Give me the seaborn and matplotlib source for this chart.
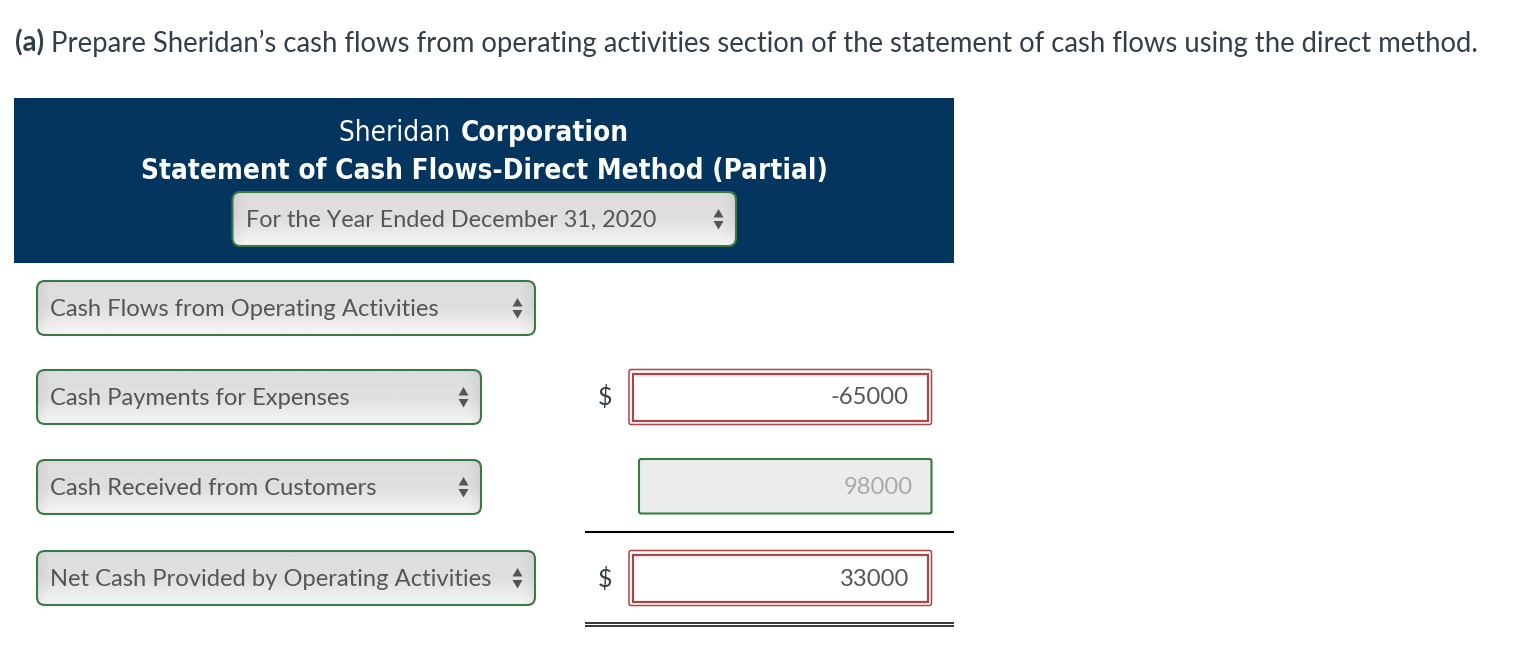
import numpy as np
import matplotlib
matplotlib.use("Agg")
import matplotlib.pyplot as plt
from matplotlib.patches import FancyBboxPatch, Rectangle, Polygon
import seaborn as sns

# ---- content ----
QUESTION_BOLD = "(a)"
QUESTION_TEXT = " Prepare Sheridan’s cash flows from operating activities section of the statement of cash flows using the direct method."
COMPANY_REGULAR = "Sheridan "
COMPANY_BOLD = "Corporation"
STATEMENT_TITLE = "Statement of Cash Flows-Direct Method (Partial)"
PERIOD_LABEL = "For the Year Ended December 31, 2020"
ROW_LABELS = ["Cash Flows from Operating Activities", "Cash Payments for Expenses",
              "Cash Received from Customers", "Net Cash Provided by Operating Activities"]
AMOUNT_LABELS = ["-65000", "98000", "33000"]

# ---- layout (pixels) ----
ROW_TOPS = [281, 370, 460, 551]
ROW_RIGHTS = [535, 481, 481, 535]
AMOUNT_TOPS = [369.5, 459, 550.5]
NAVY = "#03355f"; GREEN = "#3b7a43"; RED = "#ad4545"; TEXT = "#555555"; INK = "#333f48"
FS = 17.1

sns.set_theme(style="white")
plt.rcParams["font.family"] = ["Lato", "DejaVu Sans"]
fig = plt.figure(figsize=(15.32, 6.70), dpi=100, facecolor="white")
ax = fig.add_axes([0, 0, 1, 1])
ax.set_xlim(0, 1532); ax.set_ylim(670, 0); ax.axis("off")

def select(x0, y0, x1, y1, label, fs=FS):
    h = y1 - y0; w = x1 - x0
    ramp = np.interp(np.linspace(0, 1, 64), [0, .5, .6, .9, 1], [.865, .875, .89, .95, .96])
    img = np.tile(ramp[:, None], (1, 200))
    u = np.linspace(0, 1, 200)
    side = np.clip(np.minimum(u, 1 - u) * w / 12, 0, 1)
    img = img * (0.95 + 0.05 * side)[None, :]
    box = FancyBboxPatch((x0, y0), w, h, boxstyle="round,pad=0,rounding_size=8",
                         fc="none", ec=GREEN, lw=1.5, zorder=3)
    ax.add_patch(box)
    im = ax.imshow(img, extent=(x0, x1, y1, y0), cmap="gray", vmin=0, vmax=1, aspect="auto", zorder=2)
    im.set_clip_path(box)
    ax.text(x0 + 13.5, (y0 + y1) / 2 + 1.2, label, color=TEXT, fontsize=fs, va="center", ha="left", zorder=4)
    ax_c = x1 - 17.5; ym = (y0 + y1) / 2
    ax.add_patch(Polygon([(ax_c - 5, ym - 1.5), (ax_c + 5, ym - 1.5), (ax_c, ym - 10)], fc=TEXT, ec="none", zorder=4))
    ax.add_patch(Polygon([(ax_c - 5, ym + 2), (ax_c + 5, ym + 2), (ax_c, ym + 10.5)], fc=TEXT, ec="none", zorder=4))

def red_box(y0, label):
    ax.add_patch(FancyBboxPatch((629, y0), 302.5, 55, boxstyle="round,pad=0,rounding_size=2", fc="white", ec=RED, lw=1.1, zorder=2))
    ax.add_patch(Rectangle((633, y0 + 4), 294.5, 47, fc="white", ec=RED, lw=1.6, zorder=3))
    ax.add_patch(Rectangle((634, y0 + 5), 292.5, 2.5, fc="#ececec", ec="none", zorder=3))
    ax.text(909, y0 + 28.5, label, color=TEXT, fontsize=FS, ha="right", va="center", zorder=4)
    ax.text(605, y0 + 28, "$", color=INK, fontsize=18, ha="center", va="center", zorder=4)

# question line
r = fig.canvas.get_renderer()
t = ax.text(15, 43, QUESTION_BOLD, color=INK, fontsize=19.8, fontweight="bold", va="center", ha="left")
x = t.get_window_extent(r).x1
ax.text(x, 43, QUESTION_TEXT, color=INK, fontsize=19.8, va="center", ha="left")

# header band
ax.add_patch(Rectangle((14, 98), 940, 165, fc=NAVY, ec="none", zorder=1))
hf = dict(color="white", fontsize=20, va="center", ha="left", zorder=4,
          family="DejaVu Sans", stretch="condensed")
a = ax.text(0, 133, COMPANY_REGULAR, **hf)
b = ax.text(0, 133, COMPANY_BOLD, fontweight="bold", **hf)
wa = a.get_window_extent(r).width + 3; wb = b.get_window_extent(r).width
a.set_x(484 - (wa + wb) / 2); b.set_x(484 - (wa + wb) / 2 + wa)
ax.text(484, 170.5, STATEMENT_TITLE, color="white", fontsize=20, fontweight="bold", va="center", ha="center",
        family="DejaVu Sans", stretch="condensed", zorder=4)
select(232.5, 192, 736, 246, PERIOD_LABEL, fs=16.85)

for top, right, label in zip(ROW_TOPS, ROW_RIGHTS, ROW_LABELS):
    select(37, top, right, top + 54, label)

red_box(AMOUNT_TOPS[0], AMOUNT_LABELS[0])
ax.add_patch(FancyBboxPatch((639, AMOUNT_TOPS[1]), 292.5, 54.5, boxstyle="round,pad=0,rounding_size=2", fc="#ececec", ec=GREEN, lw=1.5, zorder=2))
ax.text(913, AMOUNT_TOPS[1] + 28.5, AMOUNT_LABELS[1], color="#aaaaaa", fontsize=FS, ha="right", va="center", zorder=4)
red_box(AMOUNT_TOPS[2], AMOUNT_LABELS[2])

ax.plot([585, 954], [532, 532], color="black", lw=1.5, solid_capstyle="butt")
ax.plot([585, 954], [622.5, 622.5], color="black", lw=1.1, solid_capstyle="butt")
ax.plot([585, 954], [626, 626], color="black", lw=1.1, solid_capstyle="butt")
ax.set_xlim(0, 1532); ax.set_ylim(670, 0)
fig.savefig("out.png", dpi=100, facecolor="white")
